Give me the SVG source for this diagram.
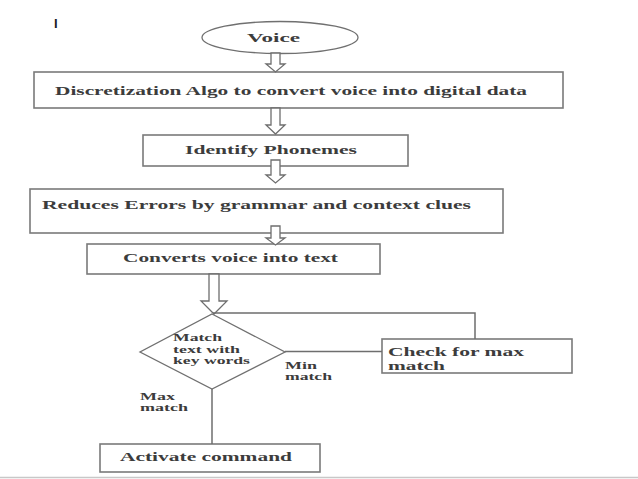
<svg xmlns="http://www.w3.org/2000/svg" width="638" height="479" viewBox="0 0 638 479">
<style>
.box{fill:#fff;stroke:#7a7a7a;stroke-width:1.6}
.t{font-family:"Liberation Serif","Times New Roman",serif;font-weight:bold;fill:#3c3c3c}
.m{font-size:13px}
.s{font-size:11px}
.arr{fill:#fff;stroke:#6e6e6e;stroke-width:1.3;stroke-linejoin:miter}
.ln{fill:none;stroke:#6e6e6e;stroke-width:1.5}
</style>
<rect width="638" height="479" fill="#fff"/>
<text x="54" y="28" font-family="Liberation Sans,Arial,sans-serif" font-weight="bold" font-size="13" fill="#222">I</text>
<line x1="0" y1="477.5" x2="638" y2="477.5" stroke="#c8c8c8" stroke-width="1.5"/>

<g id="voice">
<ellipse cx="280" cy="37.5" rx="78" ry="16" fill="#fff" stroke="#707070" stroke-width="1.3"/>
<text class="t m" x="247" y="42" textLength="53" lengthAdjust="spacingAndGlyphs">Voice</text>
</g>

<g id="discretization">
<rect class="box" x="34" y="72" width="529" height="36"/>
<text class="t m" x="55" y="95" textLength="472" lengthAdjust="spacingAndGlyphs">Discretization Algo to convert voice into digital data</text>
</g>

<g id="phonemes">
<rect class="box" x="143" y="135" width="265" height="31"/>
<text class="t m" x="185" y="154" textLength="172" lengthAdjust="spacingAndGlyphs">Identify Phonemes</text>
</g>

<g id="reduces">
<rect class="box" x="30" y="189" width="473" height="44"/>
<text class="t m" x="42" y="209" textLength="429" lengthAdjust="spacingAndGlyphs">Reduces Errors by grammar and context clues</text>
</g>

<g id="converts">
<rect class="box" x="87" y="244" width="293" height="30"/>
<text class="t m" x="123" y="262" textLength="215" lengthAdjust="spacingAndGlyphs">Converts voice into text</text>
</g>

<g id="match">
<polygon points="212,314 285,352 212,389 140,352" fill="#fff" stroke="#707070" stroke-width="1.3"/>
<text class="t s" x="173" y="341" textLength="49" lengthAdjust="spacingAndGlyphs">Match</text>
<text class="t s" x="173" y="353" textLength="67" lengthAdjust="spacingAndGlyphs">text with</text>
<text class="t s" x="173" y="364" textLength="77" lengthAdjust="spacingAndGlyphs">key words</text>
</g>

<g id="labels">
<text class="t s" x="285" y="369" textLength="32" lengthAdjust="spacingAndGlyphs">Min</text>
<text class="t s" x="285" y="380" textLength="47" lengthAdjust="spacingAndGlyphs">match</text>
<text class="t s" x="140" y="400" textLength="35" lengthAdjust="spacingAndGlyphs">Max</text>
<text class="t s" x="140" y="411" textLength="48" lengthAdjust="spacingAndGlyphs">match</text>
</g>

<g id="checkmax">
<rect class="box" x="382" y="339" width="190" height="34"/>
<text class="t" font-size="12.5" x="388" y="356" textLength="136" lengthAdjust="spacingAndGlyphs">Check for max</text>
<text class="t" font-size="12.5" x="388" y="370" textLength="57" lengthAdjust="spacingAndGlyphs">match</text>
</g>

<g id="activate">
<rect class="box" x="100" y="444" width="220" height="28"/>
<text class="t" font-size="13.5" x="120" y="461" textLength="172" lengthAdjust="spacingAndGlyphs">Activate command</text>
</g>

<g id="connectors">
<path class="arr" d="M271,53 L280,53 L280,64 L285,64 L275.5,72 L266,64 L271,64 Z"/>
<path class="arr" d="M271,108 L280,108 L280,125 L285,125 L275.5,134 L266,125 L271,125 Z"/>
<path class="arr" d="M271,160 L280,160 L280,175 L285,175 L275.5,183 L266,175 L271,175 Z"/>
<path class="arr" d="M271,226 L280,226 L280,238 L285,238 L275.5,245 L266,238 L271,238 Z"/>
<path class="arr" d="M209,274 L219,274 L219,301 L227,301 L214,314 L201,301 L209,301 Z"/>
<polyline class="ln" points="213,313 475,313 475,339"/>
<line class="ln" x1="285" y1="351.5" x2="382" y2="351.5"/>
<line class="ln" x1="212" y1="389" x2="212" y2="444"/>
</g>
</svg>
